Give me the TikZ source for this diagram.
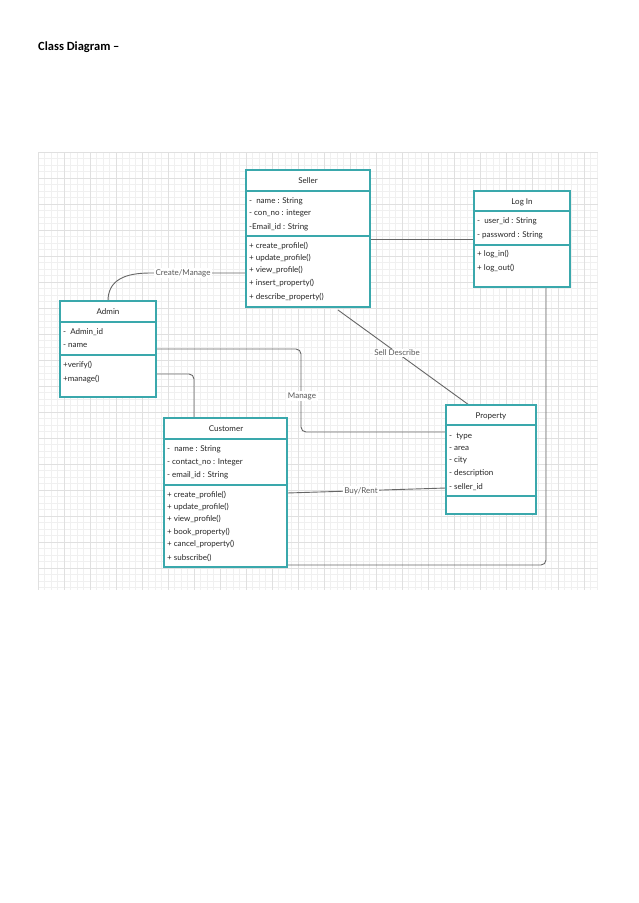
\documentclass[tikz,border=0pt]{standalone}
\usepackage{fontspec}
\setmainfont{Carlito}
\newfontfamily\diag{Lato}
\definecolor{tl}{RGB}{58,168,172}
\begin{document}
\begin{tikzpicture}[x=1pt,y=-1pt,
  box/.style={draw=tl, line width=1.2pt, fill=white},
  sep/.style={draw=tl, line width=1.2pt},
  txt/.style={font=\diag\fontsize{8}{9}\selectfont, text=black!85, inner sep=0pt, anchor=west},
  ttl/.style={font=\diag\fontsize{8}{9}\selectfont, text=black!85, inner sep=0pt},
  conn/.style={draw=black!60, line width=0.9pt, rounded corners=5pt},
  lab/.style={font=\diag\fontsize{8}{9}\selectfont, text=black!65, fill=white, inner sep=1.5pt}]
\useasboundingbox (0,0) rectangle (638,903);
\fill[white] (0,0) rectangle (638,903);
\node[font=\bfseries\fontsize{12.5}{14}\selectfont, anchor=west, inner sep=0pt] (title) at (38,47) {Class Diagram –};
% grid
\foreach \i in {0,...,86} {\draw[black!6, line width=0.3pt] ({38+6.5*\i},152) -- ({38+6.5*\i},590);}
\foreach \j in {0,...,67} {\draw[black!6, line width=0.3pt] (38,{152+6.5*\j}) -- (598,{152+6.5*\j});}
\foreach \i in {0,...,21} {\draw[black!12, line width=0.4pt] ({38+26*\i},152) -- ({38+26*\i},590);}
\foreach \j in {0,...,16} {\draw[black!12, line width=0.4pt] (38,{152+26*\j}) -- (598,{152+26*\j});}
% connectors
\draw[conn] (156,349) -- (301,349) -- (301,432) -- (446,432);
\draw[conn] (156,374) -- (194,374) -- (194,418);
\draw[conn] (287,565) -- (546,565) -- (546,287);
\draw[black!60, line width=0.9pt] (108,301) .. controls (108,280) and (125,273) .. (150,273) -- (246,273);
\draw[black!60, line width=0.9pt] (370,239) -- (474,239);
\draw[black!60, line width=0.9pt] (338,310) -- (469,405);
\draw[black!60, line width=0.9pt] (287,493) -- (446,488);
\node[lab] (l1) at (183,273) {Create/Manage};
\node[lab] (l2) at (397,353) {Sell Describe};
\node[lab] (l3) at (302,396) {Manage};
\node[lab] (l4) at (361,491) {Buy/Rent};
% Seller
\draw[box] (246,170) rectangle (370,307);
\draw[sep] (246,191) -- (370,191); \draw[sep] (246,236) -- (370,236);
\node[ttl] (seller) at (308,181) {Seller};
\node[txt] (s1) at (249,201) {-\ \ name : String};
\node[txt] (s2) at (249,213) {- con\_no : integer};
\node[txt] (s3) at (249,227) {-Email\_id : String};
\node[txt] (s4) at (249,246) {+ create\_profile()};
\node[txt] (s5) at (249,258) {+ update\_profile()};
\node[txt] (s6) at (249,270) {+ view\_profile()};
\node[txt] (s7) at (249,283) {+ insert\_property()};
\node[txt] (s8) at (249,297) {+ describe\_property()};
% Log In
\draw[box] (474,191) rectangle (570,287);
\draw[sep] (474,211) -- (570,211); \draw[sep] (474,245) -- (570,245);
\node[ttl] (login) at (522,202) {Log In};
\node[txt] (g1) at (477,221) {-\ \ user\_id : String};
\node[txt] (g2) at (477,235) {- password : String};
\node[txt] (g3) at (477,254) {+ log\_in()};
\node[txt] (g4) at (477,268) {+ log\_out()};
% Admin
\draw[box] (60,301) rectangle (156,397);
\draw[sep] (60,322) -- (156,322); \draw[sep] (60,355) -- (156,355);
\node[ttl] (admin) at (108,312) {Admin};
\node[txt] (a2) at (63,332) {-\ \ Admin\_id};
\node[txt] (a3) at (63,345) {- name};
\node[txt] (a4) at (63,365) {+verify()};
\node[txt] (a5) at (63,379) {+manage()};
% Customer
\draw[box] (164,418) rectangle (287,567);
\draw[sep] (164,439) -- (287,439); \draw[sep] (164,485) -- (287,485);
\node[ttl] (cust) at (226,429) {Customer};
\node[txt] (c1) at (167,449) {-\ \ name : String};
\node[txt] (c2) at (167,462) {- contact\_no : Integer};
\node[txt] (c3) at (167,475) {- email\_id : String};
\node[txt] (c4) at (167,495) {+ create\_profile()};
\node[txt] (c5) at (167,507) {+ update\_profile()};
\node[txt] (c6) at (167,519) {+ view\_profile()};
\node[txt] (c7) at (167,532) {+ book\_property()};
\node[txt] (c8) at (167,544) {+ cancel\_property()};
\node[txt] (c9) at (167,558) {+ subscribe()};
% Property
\draw[box] (446,405) rectangle (536,514);
\draw[sep] (446,425) -- (536,425); \draw[sep] (446,496) -- (536,496);
\node[ttl] (prop) at (491,416) {Property};
\node[txt] (p1) at (449,436) {-\ \ type};
\node[txt] (p2) at (449,448) {- area};
\node[txt] (p3) at (449,460) {- city};
\node[txt] (p4) at (449,473) {- description};
\node[txt] (p5) at (449,487) {- seller\_id};
\end{tikzpicture}
\end{document}
